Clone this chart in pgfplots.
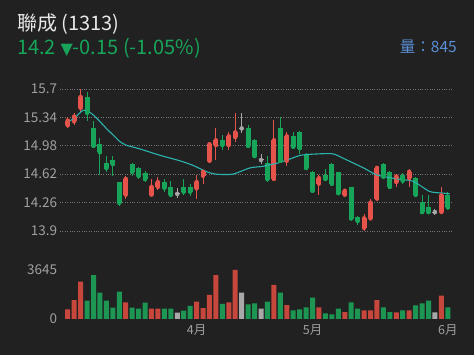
\documentclass[border=0pt]{standalone}
\usepackage{pgfplots}
\pgfplotsset{compat=1.18}
\usepackage{pgfplotstable}
\usepackage{fontspec}
\setmainfont{Noto Sans CJK TC}
\newfontfamily\dejavu{DejaVu Sans}
\definecolor{bg}{HTML}{212121}
\definecolor{upc}{HTML}{E5534B}
\definecolor{dnc}{HTML}{17A55A}
\definecolor{flc}{HTML}{A8A8A8}
\definecolor{vup}{HTML}{C8473D}
\definecolor{vdn}{HTML}{1C9652}
\definecolor{txt}{HTML}{E8E8E8}
\definecolor{lbl}{HTML}{A0A0A0}
\definecolor{gridc}{HTML}{757575}
\definecolor{mac}{HTML}{2BB3AE}
\definecolor{qblue}{HTML}{5B8FD6}

\pgfplotstableread{
i  o     h     l     c     v
0  15.24 15.35 15.20 15.30 720
1  15.29 15.40 15.24 15.35 1410
2  15.46 15.70 15.41 15.60 2775
9  14.36 14.60 14.31 14.56 1240
13 14.36 14.56 14.35 14.46 770
14 14.46 14.58 14.42 14.52 770
20 14.44 14.61 14.31 14.52 1290
21 14.60 14.67 14.50 14.65 800
22 14.79 15.01 14.78 15.00 1790
23 14.99 15.20 14.80 15.05 3270
25 14.99 15.15 14.93 15.10 1240
26 15.09 15.40 15.03 15.15 3645
32 14.56 15.31 14.53 15.05 2530
34 14.79 15.15 14.72 15.10 1040
39 14.50 14.61 14.36 14.57 870
43 14.36 14.42 14.33 14.41 520
46 13.94 14.12 13.90 14.06 640
47 14.06 14.30 14.04 14.26 640
48 14.31 14.72 14.30 14.70 1410
51 14.52 14.62 14.46 14.59 490
53 14.57 14.69 14.46 14.65 640
58 14.14 14.46 14.12 14.35 1730
}\up

\pgfplotstableread{
i  o     h     l     c     v
3  15.60 15.66 15.30 15.40 1360
4  15.20 15.29 14.95 14.98 3270
5  15.00 15.08 14.61 14.90 1960
6  14.76 14.85 14.65 14.70 1360
7  14.80 14.85 14.60 14.75 840
8  14.52 14.52 14.22 14.26 2030
10 14.75 14.76 14.60 14.65 840
11 14.70 14.71 14.56 14.60 770
12 14.63 14.66 14.52 14.56 1210
15 14.52 14.56 14.40 14.45 770
16 14.46 14.53 14.33 14.36 770
18 14.46 14.56 14.36 14.40 620
19 14.46 14.50 14.34 14.40 970
24 15.05 15.12 14.93 14.99 1120
28 15.20 15.24 14.97 14.98 1090
29 15.05 15.07 14.84 14.85 1160
31 14.76 14.85 14.52 14.56 1290
33 15.20 15.34 14.76 14.79 1960
35 15.10 15.15 14.95 14.97 640
36 15.15 15.17 14.88 14.95 720
37 14.86 14.89 14.69 14.70 870
38 14.65 14.66 14.40 14.41 1590
40 14.61 14.68 14.54 14.56 420
41 14.75 14.76 14.48 14.50 350
42 14.65 14.65 14.35 14.38 770
44 14.46 14.46 14.05 14.06 1240
45 14.08 14.09 13.98 14.03 770
49 14.75 14.76 14.57 14.59 870
50 14.65 14.66 14.43 14.46 520
52 14.61 14.64 14.50 14.54 640
54 14.57 14.59 14.35 14.36 1020
55 14.27 14.35 14.12 14.14 1160
56 14.21 14.35 14.12 14.14 1360
59 14.36 14.40 14.18 14.20 870
}\down

\pgfplotstableread{
i  o     h     l     c     v
17 14.37 14.44 14.32 14.37 470
27 15.20 15.40 15.14 15.20 1960
30 14.80 14.87 14.75 14.80 770
57 14.14 14.18 14.10 14.14 490
}\flat

\pgfplotstableread{
i    m
0    15.28
1    15.33
2.4  15.43
3.5  15.40
4.5  15.33
6    15.20
7    15.12
8    15.04
9    14.99
11.2 14.94
14.3 14.86
17.4 14.79
19.5 14.73
21.6 14.65
23.1 14.62
25.6 14.62
28.3 14.70
30.3 14.72
33.0 14.77
36.1 14.86
37.2 14.87
41.0 14.88
42.8 14.82
45.9 14.70
48.0 14.61
51.1 14.56
53.6 14.53
56.2 14.40
58.3 14.38
59.3 14.37
}\ma

\begin{document}
\begin{tikzpicture}[x=1pt,y=1pt]
\fill[bg] (0,0) rectangle (474,355);
\node[anchor=base west, inner sep=0pt, text=txt, font=\fontsize{20}{22}\selectfont] at (17,324) {聯成 (1313)};
\node[anchor=base west, inner sep=0pt, text=dnc, font=\fontsize{20}{22}\selectfont] at (17,300) {14.2 {\dejavu\fontsize{16}{18}\selectfont ▼}-0.15 (-1.05\%)};
\node[anchor=base east, inner sep=0pt, text=qblue, font=\fontsize{15.5}{17}\selectfont] at (457,302) {量：845};

\begin{axis}[at={(60pt,123pt)}, anchor=south west, scale only axis,
  width=393pt, height=147pt, xmin=-1.2, xmax=59.8, ymin=13.887, ymax=15.751,
  axis line style={draw=none}, tick style={draw=none},
  xtick=\empty,
  ytick={13.9,14.26,14.62,14.98,15.34,15.7},
  yticklabels={13.9,14.26,14.62,14.98,15.34,15.7},
  /pgf/number format/assume math mode=true,
  ymajorgrids, grid style={gridc, dotted, line width=0.8pt},
  yticklabel style={text=lbl, font=\fontsize{13.5}{15}\selectfont, inner sep=0pt, xshift=-2.7pt}]
% wicks
\addplot[upc, only marks, mark=none, error bars/.cd, y dir=both, y explicit, error mark=none, error bar style={line width=1pt, solid}]
  table[x=i, y=c, y error plus expr=\thisrow{h}-\thisrow{c}, y error minus expr=\thisrow{c}-\thisrow{l}] {\up};
\addplot[dnc, only marks, mark=none, error bars/.cd, y dir=both, y explicit, error mark=none, error bar style={line width=1pt, solid}]
  table[x=i, y=c, y error plus expr=\thisrow{h}-\thisrow{c}, y error minus expr=\thisrow{c}-\thisrow{l}] {\down};
\addplot[flc, only marks, mark=none, error bars/.cd, y dir=both, y explicit, error mark=none, error bar style={line width=1pt, solid}]
  table[x=i, y=c, y error plus expr=\thisrow{h}-\thisrow{c}, y error minus expr=\thisrow{c}-\thisrow{l}] {\flat};
% bodies
\addplot[upc, only marks, mark=none, error bars/.cd, y dir=plus, y explicit, error mark=none, error bar style={line width=5pt, solid}]
  table[x=i, y=o, y error plus expr=\thisrow{c}-\thisrow{o}] {\up};
\addplot[dnc, only marks, mark=none, error bars/.cd, y dir=plus, y explicit, error mark=none, error bar style={line width=5pt, solid}]
  table[x=i, y=c, y error plus expr=\thisrow{o}-\thisrow{c}] {\down};
\addplot[flc, only marks, mark=-, mark size=2.5pt, mark options={line width=1pt}] table[x=i, y=c] {\flat};
% moving average
\addplot[mac, line width=1.1pt, smooth, tension=0.4, mark=none] table[x=i, y=m] {\ma};
\end{axis}

\begin{axis}[at={(60pt,36pt)}, anchor=south west, scale only axis,
  width=393pt, height=51pt, xmin=-1.2, xmax=59.8, ymin=0, ymax=3794,
  axis line style={draw=none}, tick style={draw=none},
  ytick={0,3645}, yticklabels={0,3645},
  xtick={20,38,59}, xticklabels={4月,5月,6月},
  /pgf/number format/assume math mode=true,
  yticklabel style={text=lbl, font=\fontsize{13.5}{15}\selectfont, inner sep=0pt, xshift=-2.7pt},
  xticklabel style={text=lbl, font=\fontsize{12.5}{14}\selectfont, inner sep=0pt, yshift=-5pt}]
\draw[gridc, line width=0.8pt] (rel axis cs:0,0) -- (rel axis cs:1,0);
\addplot[ybar, bar width=5pt, bar shift=0pt, fill=vup, draw=none] table[x=i, y=v] {\up};
\addplot[ybar, bar width=5pt, bar shift=0pt, fill=vdn, draw=none] table[x=i, y=v] {\down};
\addplot[ybar, bar width=5pt, bar shift=0pt, fill=flc, draw=none] table[x=i, y=v] {\flat};
\end{axis}
\end{tikzpicture}
\end{document}
